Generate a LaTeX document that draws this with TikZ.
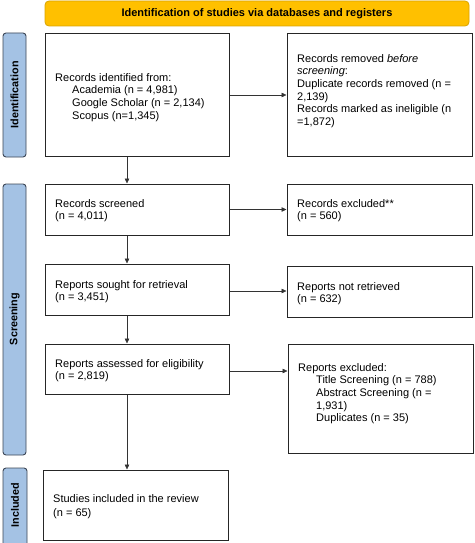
\documentclass[tikz,border=0pt]{standalone}
\usepackage{fontspec}
\setmainfont{Liberation Sans}
\usetikzlibrary{arrows.meta}
\definecolor{hdr}{HTML}{FFC000}
\definecolor{hdrline}{HTML}{D9A300}
\definecolor{side}{HTML}{A4C2E4}
\definecolor{sideline}{HTML}{3C4656}
\begin{document}
\begin{tikzpicture}[x=1pt,y=-1pt,
  every node/.style={font=\fontsize{11}{12.7}\selectfont},
  box/.style={draw=black!85,line width=1pt,fill=white},
  sidebar/.style={draw=sideline,line width=0.9pt,fill=side,rounded corners=3pt},
  sidelabel/.style={rotate=90,font=\fontsize{10.8}{12}\selectfont\bfseries},
  txt/.style={anchor=north west,align=left,inner sep=0pt},
  arr/.style={-{Triangle[length=5pt,width=4.5pt]},line width=0.6pt,draw=black!80}]
\useasboundingbox (0,0) rectangle (474,543);
% header
\draw[fill=hdr,draw=hdrline,line width=0.8pt,rounded corners=4pt] (45,1) rectangle (469,26);
\node[font=\fontsize{11}{12}\selectfont\bfseries] (hdrtxt) at (257,14) {Identification of studies via databases and registers};
% side bars
\draw[sidebar] (3,33) rectangle (26,157);
\node[sidelabel] (idl) at (14.5,95) {Identification};
\draw[sidebar] (3,184) rectangle (26,455);
\node[sidelabel] (scl) at (14.5,319) {Screening};
\draw[sidebar] (3,468) rectangle (27,548);
\node[sidelabel] (inl) at (15,505) {Included};
% boxes
\node[box,minimum width=184pt,minimum height=122pt,inner sep=0pt] (id) at (137,95) {};
\node[txt] (idt) at (55,73) {Records identified from:\\
\hspace*{17pt}Academia (n = 4,981)\\
\hspace*{17pt}Google Scholar (n = 2,134)\\
\hspace*{17pt}Scopus (n=1,345)};
\node[box,minimum width=185pt,minimum height=122pt,inner sep=0pt] (rem) at (379.5,95) {};
\node[txt] (remt) at (297,54) {Records removed \textit{before}\\
\textit{screening}:\\
Duplicate records removed (n =\\
2,139)\\
Records marked as ineligible (n\\
=1,872)};
\node[box,minimum width=184pt,minimum height=51pt,inner sep=0pt] (scr) at (137,209.5) {};
\node[txt] (scrt) at (55,199) {Records screened\\(n = 4,011)};
\node[box,minimum width=185pt,minimum height=51pt,inner sep=0pt] (exc) at (379.5,209.5) {};
\node[txt] (exct) at (297,199) {Records excluded**\\(n = 560)};
\node[box,minimum width=184pt,minimum height=51pt,inner sep=0pt] (sou) at (137,289.5) {};
\node[txt] (sout) at (55,280) {Reports sought for retrieval\\(n = 3,451)};
\node[box,minimum width=185pt,minimum height=51pt,inner sep=0pt] (nrt) at (379.5,291.5) {};
\node[txt] (nrtt) at (297,282) {Reports not retrieved\\(n = 632)};
\node[box,minimum width=184pt,minimum height=50pt,inner sep=0pt] (ass) at (137,369) {};
\node[txt] (asst) at (55,359) {Reports assessed for eligibility\\(n = 2,819)};
\node[box,minimum width=185pt,minimum height=109pt,inner sep=0pt] (rex) at (380.5,398.5) {};
\node[txt] (rext) at (298,363) {Reports excluded:\\
\hspace*{18pt}Title Screening (n = 788)\\
\hspace*{18pt}Abstract Screening (n =\\
\hspace*{18pt}1,931)\\
\hspace*{18pt}Duplicates (n = 35)};
\node[box,minimum width=185pt,minimum height=70pt,inner sep=0pt] (inc) at (135.5,505) {};
\node[txt,font=\fontsize{11}{14.4}\selectfont] (inct) at (53,494) {Studies included in the review\\(n = 65)};
% arrows
\draw[arr] (id.east) -- (rem.west);
\draw[arr] (id.south -| 127,0) -- (scr.north -| 127,0);
\draw[arr] (scr.east) -- (exc.west);
\draw[arr] (scr.south -| 127,0) -- (sou.north -| 127,0);
\draw[arr] (sou.east |- 0,291) -- (nrt.west |- 0,291);
\draw[arr] (sou.south -| 127,0) -- (ass.north -| 127,0);
\draw[arr] (ass.east |- 0,371) -- (rex.west |- 0,371);
\draw[arr] (ass.south -| 127,0) -- (inc.north -| 127,0);
\end{tikzpicture}
\end{document}
